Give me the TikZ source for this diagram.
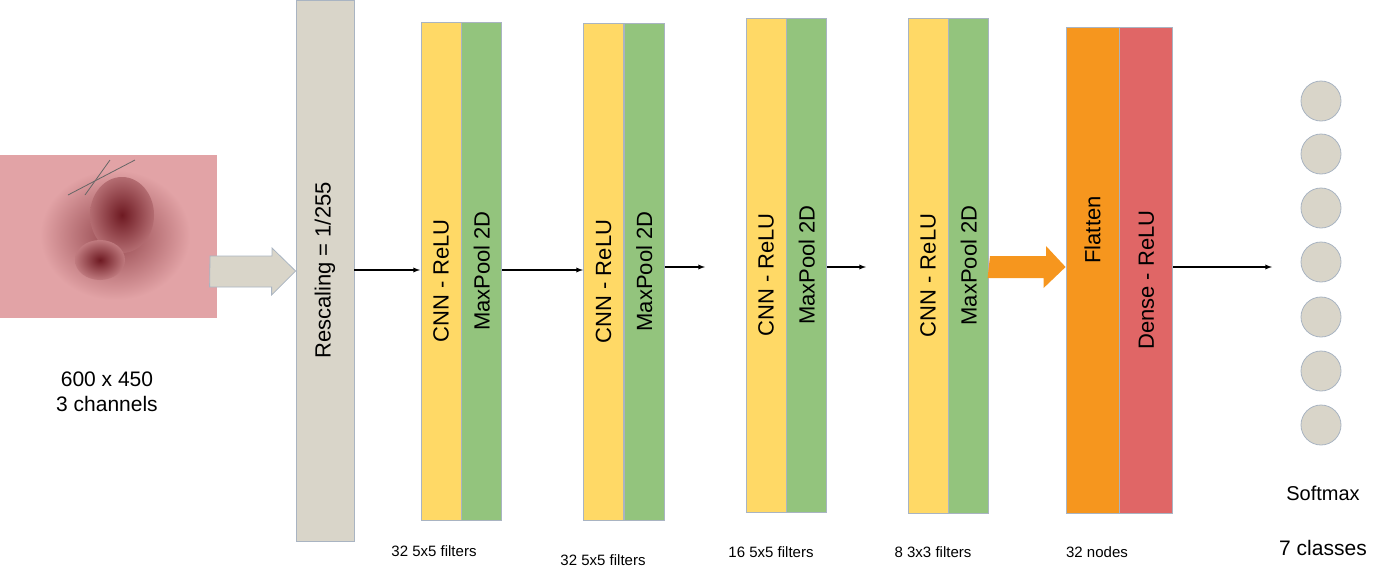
\documentclass[tikz,border=0pt]{standalone}
\usepackage{fontspec}
\setmainfont{Liberation Sans}
\definecolor{beig}{HTML}{D9D5C9}
\definecolor{edg}{HTML}{A9B4C2}
\definecolor{yel}{HTML}{FFD966}
\definecolor{grn}{HTML}{93C47D}
\definecolor{org}{HTML}{F6961E}
\definecolor{redd}{HTML}{E06666}
\definecolor{skin}{HTML}{E2A3A6}
\definecolor{les}{HTML}{6E1A22}
\tikzset{
 blk/.style={draw=edg, line width=0.8pt, minimum width=40pt, inner sep=0pt},
 lbl/.style={rotate=90, font=\fontsize{22}{24}\selectfont},
 sm/.style={font=\fontsize{15}{17}\selectfont},
 arr/.style={-latex, line width=1.3pt},
 circ/.style={circle, draw=edg, fill=beig, minimum size=40pt, inner sep=0pt, line width=0.8pt}
}
\begin{document}
\begin{tikzpicture}[x=1pt,y=-1pt]
\useasboundingbox (0,0) rectangle (1400,584);
% photo
\begin{scope}
\clip (0,155) rectangle (217,318);
\fill[skin] (0,155) rectangle (217,318);
\shade[inner color=les!70!skin, outer color=skin] (115,235) ellipse (75 and 65);
\shade[inner color=les, outer color=les!40!skin] (122,215) ellipse (32 and 38);
\shade[inner color=les, outer color=les!30!skin] (100,260) ellipse (25 and 20);
\draw[black!60, line width=0.8pt] (68,195) -- (135,160);
\draw[black!60, line width=0.8pt] (85,195) -- (110,160);
\end{scope}
\node[font=\fontsize{21}{25}\selectfont, align=center] (res) at (107,392) {600 x 450\\3 channels};
% rescaling
\node[blk, fill=beig, minimum width=58pt, minimum height=541pt] (rs) at (325,270.5) {};
\node[lbl] at (rs) {Rescaling = 1/255};
% hollow arrow
\coordinate (hs) at (210,271);
\draw[edg, fill=beig, line width=0.8pt] (hs) ++(0,-15) -- ++(62,0) -- ++(0,-8) -- (rs.west |- hs) -- ++(-24,24) -- ++(0,-8) -- ++(-62,0) -- cycle;
% blocks
\foreach \n/\xa/\yt/\yb in {1/441/22/520, 2/603.5/23/520, 3/766/18/512, 4/928/18/513}{
  \node[blk, fill=yel, minimum height={\yb-\yt}] (y\n) at (\xa,{(\yt+\yb)/2}) {};
  \node[blk, fill=grn, minimum height={\yb-\yt}, anchor=west] (g\n) at (y\n.east) {};
  \node[lbl] at ([yshift=-10pt]y\n) {CNN - ReLU};
  \node[lbl] at (g\n) {MaxPool 2D};
}
\node[blk, fill=org, minimum width=53pt, minimum height=486pt] (fl) at (1092.5,270) {};
\node[blk, fill=redd, minimum width=53pt, minimum height=486pt, anchor=west] (de) at (fl.east) {};
\node[lbl] at ([yshift=40pt]fl) {Flatten};
\node[lbl] at ([yshift=-10pt]de) {Dense - ReLU};
% arrows
\coordinate (a1) at (420,270);
\coordinate (a2) at (583,270);
\coordinate (a3) at (705,267);
\coordinate (a4) at (866,267);
\coordinate (a5) at (1272,267);
\draw[arr] (rs.east |- a1) -- (a1);
\draw[arr] (g1.east |- a2) -- (a2);
\draw[arr] (g2.east |- a3) -- (a3);
\draw[arr] (g3.east |- a4) -- (a4);
\draw[arr] (de.east |- a5) -- (a5);
\coordinate (os) at (990,267);
\fill[org] (os) ++(0,-11) -- ++(56,0) -- ++(0,-10) -- (fl.west |- os) -- ++(-22,21) -- ++(0,-10) -- ++(-56,0) -- cycle;
% circles
\foreach \i/\yy in {1/101,2/154,3/208,4/262,5/317,6/371,7/425}{
  \node[circ] (c\i) at (1321,\yy) {};
}
\node[font=\fontsize{20}{22}\selectfont] (sf) at (1323,493) {Softmax};
\node[font=\fontsize{21}{24}\selectfont] (cl) at (1323,548) {7 classes};
\node[sm] (f1) at (434,551) {32 5x5 filters};
\node[sm] (f2) at (603,560) {32 5x5 filters};
\node[sm] (f3) at (771,552) {16 5x5 filters};
\node[sm] (f4) at (933,552) {8 3x3 filters};
\node[sm] (f5) at (1097,552) {32 nodes};
\end{tikzpicture}
\end{document}
